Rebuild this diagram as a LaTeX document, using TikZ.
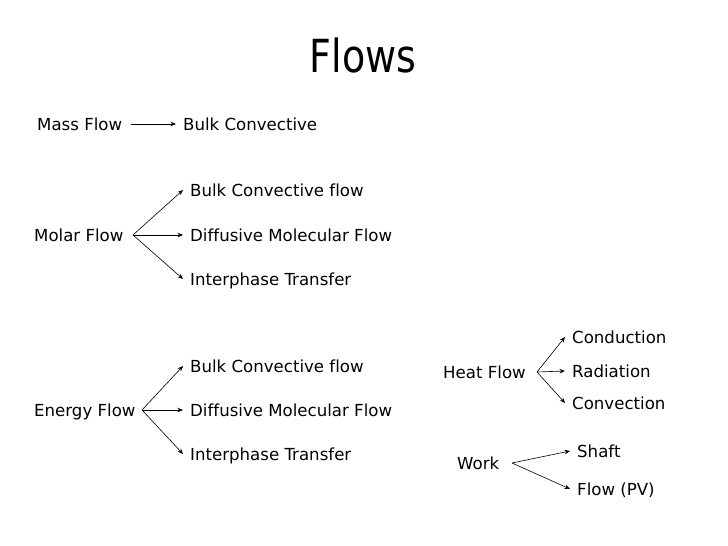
\documentclass[tikz,border=0pt]{standalone}
\usepackage{fontspec}
\usepackage{graphicx}
\setmainfont[Ligatures={NoCommon}]{DejaVu Sans}
\usetikzlibrary{arrows.meta}
\begin{document}
\begin{tikzpicture}[x=1pt,y=-1pt,
  lbl/.style={anchor=west,inner xsep=0pt,inner ysep=0pt,text height=12.2pt,text depth=0pt,font=\fontsize{16.6}{20}\selectfont},
  tgt/.style={lbl,inner xsep=7pt},
  arr/.style={-{Stealth[length=5.5pt,width=4.5pt]},line width=0.6pt}]
\useasboundingbox (0,0) rectangle (728,546);
\node[font=\fontsize{38}{44}\selectfont,inner sep=0pt] (title) at (363,55) {\scalebox{1}[1.2]{Flows}};
% Mass
\node[lbl] (mass) at (37,124) {Mass Flow};
\node[tgt] (massbc) at (176,124) {Bulk Convective};
\coordinate (massf) at (131,124);
\draw[arr] (massf) -- (massbc.west);
% Molar
\node[lbl] (molar) at (34,235) {Molar Flow};
\coordinate (molarf) at (133,235);
\node[tgt] (molbc) at (183,190) {Bulk Convective flow};
\node[tgt] (moldm) at (183,235) {Diffusive Molecular Flow};
\node[tgt] (molit) at (183,279) {Interphase Transfer};
\draw[arr] (molarf) -- (molbc.west);
\draw[arr] (molarf) -- (moldm.west);
\draw[arr] (molarf) -- (molit.west);
% Energy
\node[lbl] (energy) at (34,410) {Energy Flow};
\coordinate (energyf) at (142,410);
\node[tgt] (enbc) at (183,366) {Bulk Convective flow};
\node[tgt] (endm) at (183,410) {Diffusive Molecular Flow};
\node[tgt] (enit) at (183,454) {Interphase Transfer};
\draw[arr] (energyf) -- (enbc.west);
\draw[arr] (energyf) -- (endm.west);
\draw[arr] (energyf) -- (enit.west);
% Heat
\node[lbl] (heat) at (443,372) {Heat Flow};
\coordinate (heatf) at (537,372);
\node[tgt] (cond) at (565,337) {Conduction};
\node[tgt] (rad) at (565,371) {Radiation};
\node[tgt] (conv) at (565,403) {Convection};
\draw[arr] (heatf) -- (cond.west);
\draw[arr] (heatf) -- (rad.west);
\draw[arr] (heatf) -- (conv.west);
% Work
\node[lbl] (work) at (457,463) {Work};
\coordinate (workf) at (512,463);
\node[tgt] (shaft) at (570,451) {Shaft};
\node[tgt] (flowpv) at (570,489) {Flow (PV)};
\draw[arr] (workf) -- (shaft.west);
\draw[arr] (workf) -- (flowpv.west);
\end{tikzpicture}
\end{document}
